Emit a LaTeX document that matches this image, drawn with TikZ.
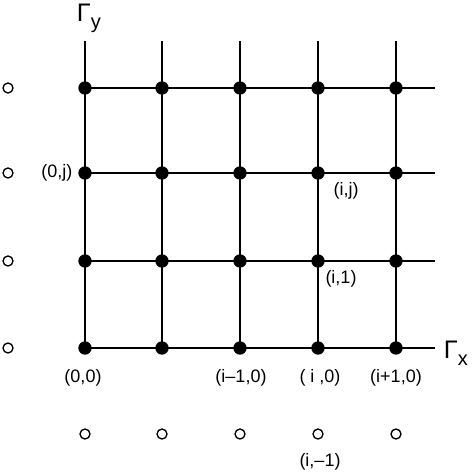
\documentclass[tikz,border=0pt]{standalone}
\usepackage{fontspec}
\setmainfont{Liberation Sans}
\usetikzlibrary{positioning}
\begin{document}
\begin{tikzpicture}[x=0.75pt,y=-0.75pt,line width=1.4pt,
     dot/.style={circle,fill,inner sep=0pt,minimum size=10pt},
     ghost/.style={circle,draw,line width=1pt,inner sep=0pt,minimum size=7.5pt},
     lbl/.style={font=\fontsize{13.5}{16}\selectfont,inner sep=1pt},
     axis/.style={font=\fontsize{19}{22}\selectfont,inner sep=0pt}]
  \useasboundingbox (0,0) rectangle (474,472);
  \foreach \c/\x in {0/85,1/162,2/240,3/318,4/396}{
     \node[dot] (p\c0) at (\x,348) {};
     \node[dot] (p\c1) at (\x,261) {};
     \node[dot] (p\c2) at (\x,173) {};
     \node[dot] (p\c3) at (\x,88) {};
     \node[ghost] (g\c) at (\x,434) {};
     \coordinate (t\c) at (\x,41);
     \draw (t\c) -- (p\c0.center);}
  \foreach \r/\y in {0/348,1/261,2/173,3/88}{
     \node[ghost] (h\r) at (8,\y) {};
     \coordinate (e\r) at (435,\y);
     \draw (p0\r.center) -- (e\r);}
  \path node[axis,anchor=base west] (Gy) at (76,21) {Γ\raisebox{-0.55ex}{\fontsize{15}{17}\selectfont y}}
     node[axis,anchor=base west] (Gx) at (443,358) {Γ\raisebox{-0.55ex}{\fontsize{15}{17}\selectfont x}};
  \node[lbl,left=2pt of p02] (l0j) {(0,j)};
  \node[lbl] (lij) at (346,191) {(i,j)};
  \node[lbl] (li1) at (341,279) {(i,1)};
  \node[lbl] (l00) at (83,378) {(0,0)};
  \node[lbl] (lm0) at (241,378) {(i--1,0)};
  \node[lbl] (li0) at (320,378) {( i ,0)};
  \node[lbl] (lp0) at (396,378) {(i+1,0)};
  \node[lbl] (lim) at (320,462) {(i,--1)};
\end{tikzpicture}
\end{document}
